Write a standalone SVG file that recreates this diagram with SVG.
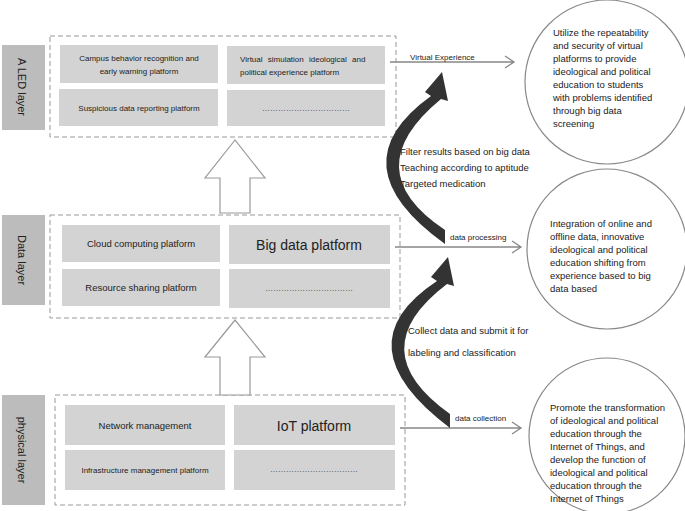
<svg xmlns="http://www.w3.org/2000/svg" width="685" height="511" viewBox="0 0 685 511">
<style>
text{font-family:"Liberation Sans",Arial,sans-serif;fill:#222}
.lab{fill:#bcbcbc}
.box{fill:#d3d3d3}
.dash{fill:none;stroke:#999;stroke-dasharray:5,3;stroke-width:1}
.ln{stroke:#888;stroke-width:1.3;fill:none}
.circ{fill:#fff;stroke:#888;stroke-width:1.2}
.hol{fill:#fff;stroke:#999;stroke-width:1.2}
.s{font-size:8px}
.m{font-size:9.5px}
.b{font-size:14px}
.c{font-size:9.5px}
.t{font-size:11px}
</style>
<rect width="685" height="511" fill="#fff"/>
<g id="led">
<rect class="lab" x="2" y="45" width="43" height="85"/>
<text class="t" transform="translate(18,87) rotate(90)" text-anchor="middle">A LED layer</text>
<rect class="dash" x="50" y="36" width="346" height="101"/>
<rect class="box" x="60" y="45" width="158" height="38"/>
<text class="s" x="139" y="61" text-anchor="middle">Campus behavior recognition and</text>
<text class="s" x="139" y="74" text-anchor="middle">early warning platform</text>
<rect class="box" x="227" y="46" width="158" height="38"/>
<text class="s" x="240" y="62" style="word-spacing:3px">Virtual simulation ideological and</text>
<text class="s" x="240" y="75">political experience platform</text>
<rect class="box" x="59" y="89" width="159" height="37"/>
<text class="s" x="139" y="111" text-anchor="middle">Suspicious data reporting platform</text>
<rect class="box" x="227" y="90" width="158" height="36"/>
<text class="s" x="306" y="111" text-anchor="middle">……………………………</text>
</g>
<g id="data">
<rect class="lab" x="2" y="215" width="43" height="90"/>
<text class="t" transform="translate(18,260) rotate(90)" text-anchor="middle">Data layer</text>
<rect class="dash" x="50" y="215" width="350" height="103"/>
<rect class="box" x="62" y="225" width="158" height="37"/>
<text class="m" x="141" y="247" text-anchor="middle">Cloud computing platform</text>
<rect class="box" x="229" y="225" width="161" height="39"/>
<text class="b" x="309" y="250" text-anchor="middle">Big data platform</text>
<rect class="box" x="62" y="269" width="158" height="37"/>
<text class="m" x="141" y="291" text-anchor="middle">Resource sharing platform</text>
<rect class="box" x="229" y="269" width="161" height="39"/>
<text class="s" x="309" y="291" text-anchor="middle">……………………………</text>
</g>
<g id="phys">
<rect class="lab" x="2" y="395" width="43" height="110"/>
<text class="t" transform="translate(18,450) rotate(90)" text-anchor="middle">physical layer</text>
<rect class="dash" x="55" y="395" width="350" height="110"/>
<rect class="box" x="65" y="405" width="160" height="40"/>
<text class="m" x="145" y="429" text-anchor="middle">Network management</text>
<rect class="box" x="234" y="405" width="161" height="40"/>
<text class="b" x="314" y="431" text-anchor="middle">IoT platform</text>
<rect class="box" x="65" y="450" width="160" height="40"/>
<text class="s" x="145" y="473" text-anchor="middle">Infrastructure management platform</text>
<rect class="box" x="234" y="450" width="161" height="40"/>
<text class="s" x="314" y="472" text-anchor="middle">……………………………</text>
</g>
<g id="c1">
<circle class="circ" cx="607" cy="82" r="82"/>
<g class="c">
<text x="553" y="36">Utilize the repeatability</text>
<text x="553" y="49">and security of virtual</text>
<text x="553" y="62">platforms to provide</text>
<text x="553" y="75">ideological and political</text>
<text x="553" y="88">education to students</text>
<text x="553" y="101">with problems identified</text>
<text x="553" y="114">through big data</text>
<text x="553" y="127">screening</text>
</g>
</g>
<g id="c2">
<circle class="circ" cx="607" cy="249" r="80"/>
<g class="c">
<text x="550" y="227">Integration of online and</text>
<text x="550" y="240">offline data, innovative</text>
<text x="550" y="253">ideological and political</text>
<text x="550" y="266">education shifting from</text>
<text x="550" y="279">experience based to big</text>
<text x="550" y="292">data based</text>
</g>
</g>
<g id="c3">
<circle class="circ" cx="607" cy="436" r="78"/>
<g class="c">
<text x="550" y="411">Promote the transformation</text>
<text x="550" y="424">of ideological and political</text>
<text x="550" y="437">education through the</text>
<text x="550" y="450">Internet of Things, and</text>
<text x="550" y="463">develop the function of</text>
<text x="550" y="476">ideological and political</text>
<text x="550" y="489">education through the</text>
<text x="550" y="502">Internet of Things</text>
</g>
</g>
<g id="connectors">
<polygon class="hol" points="235,140 205,178 220,178 220,213 250,213 250,178 265,178"/>
<polygon class="hol" points="235,320 205,357 220,357 220,395 250,395 250,357 265,357"/>
<path class="ln" d="M390,62 H513 M505,56 L514,62 L505,68"/>
<path class="ln" d="M395,247 H520 M512,241 L521,247 L512,253"/>
<path class="ln" d="M400,428 H520 M512,422 L521,428 L512,434"/>
<text class="s" x="410" y="60">Virtual Experience</text>
<text class="s" x="450" y="240">data processing</text>
<text class="s" x="455" y="421">data collection</text>
<path fill="#333" d="M445,244 Q335,165 431,96 L425,92 L442,72 L448,101 L441,99 Q355,170 445,230 Z"/>
<path fill="#333" d="M450,428 Q340,345 437,281 L431,277 L448,257 L454,286 L447,284 Q360,350 450,414 Z"/>
<g class="c">
<text x="400" y="155">Filter results based on big data</text>
<text x="400" y="171">Teaching according to aptitude</text>
<text x="400" y="187">Targeted medication</text>
<text x="408" y="334">Collect data and submit it for</text>
<text x="408" y="356">labeling and classification</text>
</g>
</g>
</svg>
